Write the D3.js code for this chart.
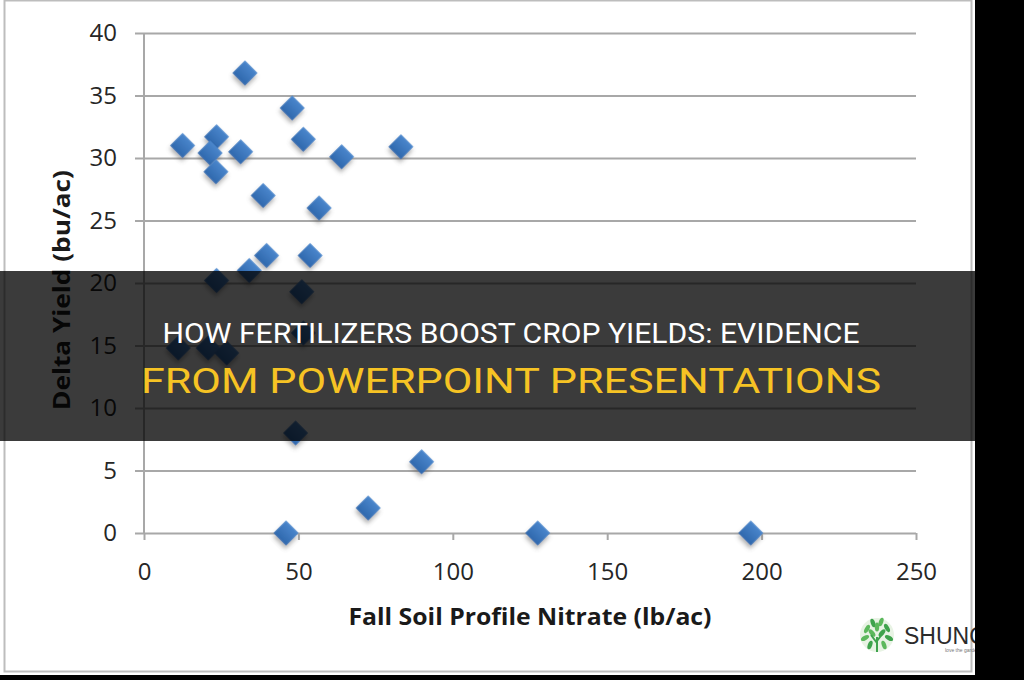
<!DOCTYPE html>
<html>
<head>
<meta charset="utf-8">
<script src="https://cdn.jsdelivr.net/npm/d3@7"></script>
<style>
  body { margin: 0; background: #000; }
  svg { display: block; }
</style>
</head>
<body>
<svg id="chart" width="1024" height="680"></svg>
<script>

///// data
var nitrate = [32.7, 48.0, 12.5, 23.5, 21.4, 31.3, 23.3, 51.6, 64.0, 83.2, 38.6, 56.7, 39.7, 53.8,
               34.1, 23.5, 51.1, 51.6, 11.1, 20.8, 26.8, 49.1, 89.9, 72.6, 46.0, 127.5, 196.5]
var delta_yield = [36.8, 34.0, 31.0, 31.7, 30.4, 30.5, 28.9, 31.5, 30.1, 30.9, 27.0, 26.0, 22.2, 22.2,
                   21.0, 20.2, 19.3, 16.0, 14.8, 14.8, 14.4, 8.0, 5.7, 2.0, 0.0, 0.0, 0.0]
var x_ticks = [0, 50, 100, 150, 200, 250]
var y_ticks = [0, 5, 10, 15, 20, 25, 30, 35, 40]
var x_title = "Fall Soil Profile Nitrate (lb/ac)"
var y_title = "Delta Yield (bu/ac)"
var banner_line1 = "HOW FERTILIZERS BOOST CROP YIELDS: EVIDENCE"
var banner_line2 = "FROM POWERPOINT PRESENTATIONS"

var points = nitrate.map(function(d, i) { return {x: d, y: delta_yield[i]} })

var svg = d3.select("#chart")

/// canvas positions
var plot_left = 144, plot_right = 916
var plot_top = 33, plot_bottom = 533
var grid_left = 135
var tick_font = "'Open Sans', 'DejaVu Sans', sans-serif"

var scaleX = d3.scaleLinear().domain([0, 250]).range([plot_left, plot_right])
var scaleY = d3.scaleLinear().domain([0, 40]).range([plot_bottom, plot_top])

var defs = svg.append("defs")
var shadow = defs.append("filter").attr("id", "shadow")
  .attr("x", "-50%").attr("y", "-50%").attr("width", "200%").attr("height", "200%")
shadow.append("feDropShadow")
  .attr("dx", 2).attr("dy", 3).attr("stdDeviation", 2)
  .attr("flood-color", "#555").attr("flood-opacity", 0.45)

var grad = defs.append("linearGradient").attr("id", "dia")
  .attr("x1", 0).attr("y1", 0).attr("x2", 0).attr("y2", 1)
grad.append("stop").attr("offset", "0%").attr("stop-color", "#4a86cc")
grad.append("stop").attr("offset", "100%").attr("stop-color", "#2f68ad")

// page background + frame
svg.append("rect")
  .attr("x", 0).attr("y", 0).attr("width", 1024).attr("height", 680)
  .attr("fill", "#fff")
svg.append("rect")
  .attr("x", 4.5).attr("y", 0.5).attr("width", 967).attr("height", 671)
  .attr("fill", "none").attr("stroke", "#bdbdbd").attr("stroke-width", 2)

//// gridlines + y labels (axis placed at right edge, ticks reach back to grid_left)
var yAxis = svg.append("g")
  .attr("transform", "translate(" + plot_right + ",0)")
  .call(d3.axisLeft(scaleY)
    .tickValues(y_ticks)
    .tickSizeInner(plot_right - grid_left)
    .tickSizeOuter(0)
    .tickPadding(18))
yAxis.select(".domain").remove()
yAxis.selectAll("line").attr("stroke", "#a8a8a8").attr("stroke-width", 2)
yAxis.selectAll("text")
  .attr("fill", "#262626")
  .style("font-family", tick_font)
  .style("font-size", "24px")

//// x axis ticks + labels
var xAxis = svg.append("g")
  .attr("transform", "translate(0," + plot_bottom + ")")
  .call(d3.axisBottom(scaleX)
    .tickValues(x_ticks)
    .tickSizeInner(7)
    .tickSizeOuter(0)
    .tickPadding(23))
xAxis.select(".domain").remove()
xAxis.selectAll("line").attr("stroke", "#a8a8a8").attr("stroke-width", 2)
xAxis.selectAll("text")
  .attr("fill", "#262626")
  .style("font-family", tick_font)
  .style("font-size", "24px")

// vertical axis line
svg.append("line")
  .attr("x1", scaleX(0)).attr("x2", scaleX(0))
  .attr("y1", scaleY(40)).attr("y2", scaleY(0))
  .attr("stroke", "#a8a8a8").attr("stroke-width", 2)

//// diamonds
var diamond = d3.symbol().type(d3.symbolSquare).size(310)
svg.selectAll("path.pt")
  .data(points)
  .enter()
  .append("path")
    .attr("class", "pt")
    .attr("d", diamond)
    .attr("fill", "url(#dia)")
    .attr("filter", "url(#shadow)")
    .attr("transform", function(d) {
      return "translate(" + scaleX(d.x) + "," + scaleY(d.y) + ") rotate(45)"
    })

//// axis titles
svg.append("text")
  .attr("x", 530).attr("y", 625)
  .attr("text-anchor", "middle")
  .attr("textLength", 363).attr("lengthAdjust", "spacingAndGlyphs")
  .attr("fill", "#1a1a1a")
  .style("font-family", tick_font)
  .style("font-weight", "bold")
  .style("font-size", "24px")
  .text(x_title)

svg.append("text")
  .attr("transform", "translate(70,290) rotate(-90)")
  .attr("text-anchor", "middle")
  .attr("textLength", 240).attr("lengthAdjust", "spacingAndGlyphs")
  .attr("fill", "#1a1a1a")
  .style("font-family", tick_font)
  .style("font-weight", "bold")
  .style("font-size", "24px")
  .text(y_title)

//// watermark
var logo = svg.append("g").attr("transform", "translate(877,635)")
logo.append("circle").attr("r", 17).attr("fill", "#e8f3e4")
var leaves = [[-10, -6, 30], [-4, -12, -20], [4, -13, 20], [10, -7, -30], [-12, 3, 60],
              [12, 3, -60], [-5, -2, -40], [5, -2, 40], [0, -8, 0], [-7, 10, 20], [7, 10, -20]]
logo.selectAll("ellipse")
  .data(leaves)
  .enter()
  .append("ellipse")
    .attr("rx", 2.2).attr("ry", 4.5)
    .attr("fill", function(d, i) { return i % 2 ? "#3fa34d" : "#5cb85c" })
    .attr("transform", function(d) { return "translate(" + d[0] + "," + d[1] + ") rotate(" + d[2] + ")" })
logo.append("path")
  .attr("d", "M0,17 L0,2 M0,8 L-6,0 M0,6 L6,-2")
  .attr("stroke", "#3fa34d").attr("stroke-width", 2).attr("fill", "none")

svg.append("text")
  .attr("x", 904).attr("y", 644)
  .attr("fill", "#2b2b2b")
  .style("font-family", "'Liberation Sans', Arial, sans-serif")
  .style("font-size", "23px")
  .text("SHUNCY")
svg.append("text")
  .attr("x", 945).attr("y", 652)
  .attr("fill", "#777")
  .style("font-family", "'Liberation Sans', Arial, sans-serif")
  .style("font-size", "5px")
  .text("love the garden")

// black margins
svg.append("rect").attr("x", 975).attr("y", 0).attr("width", 49).attr("height", 680).attr("fill", "#000")
svg.append("rect").attr("x", 0).attr("y", 675).attr("width", 1024).attr("height", 5).attr("fill", "#000")

//// banner
svg.append("rect")
  .attr("x", 0).attr("y", 271).attr("width", 1024).attr("height", 170)
  .attr("fill", "#000").attr("fill-opacity", 0.77)

var banner_font = "Roboto, 'Liberation Sans', sans-serif"
svg.append("text")
  .attr("x", 511).attr("y", 343)
  .attr("text-anchor", "middle")
  .attr("textLength", 697).attr("lengthAdjust", "spacingAndGlyphs")
  .attr("fill", "#fff")
  .style("font-family", banner_font)
  .style("font-size", "28px")
  .text(banner_line1)

svg.append("text")
  .attr("x", 511).attr("y", 393)
  .attr("text-anchor", "middle")
  .attr("textLength", 740).attr("lengthAdjust", "spacingAndGlyphs")
  .attr("fill", "#f6c324")
  .style("font-family", banner_font)
  .style("font-size", "35px")
  .text(banner_line2)

</script>
</body>
</html>
